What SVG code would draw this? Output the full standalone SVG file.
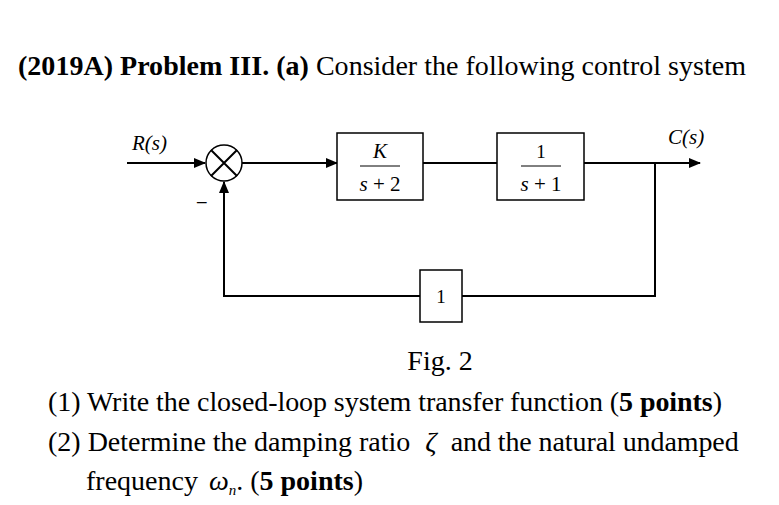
<svg xmlns="http://www.w3.org/2000/svg" width="779" height="505" viewBox="0 0 779 505">
<style>
text{font-family:"Liberation Serif",serif;fill:#000}
.t{font-size:28px}
.m{font-size:21px;font-style:italic}
.n{font-size:19px}
.b{fill:#fff;stroke:#000;stroke-width:1.5}
.c{fill:none;stroke:#000;stroke-width:2}
</style>
<defs><marker id="a" markerWidth="12" markerHeight="10" refX="11" refY="5" orient="auto" markerUnits="userSpaceOnUse"><path d="M0,0L12,5L0,10z"/></marker></defs>
<rect width="779" height="505" fill="#fff"/>
<text x="18" y="75" class="t" textLength="728"><tspan font-weight="bold">(2019A) Problem III. (a)</tspan> Consider the following control system</text>
<g id="connectors">
<line class="c" x1="127" y1="163" x2="205" y2="163" marker-end="url(#a)"/>
<line class="c" x1="242" y1="163" x2="337" y2="163" marker-end="url(#a)"/>
<line class="c" x1="423" y1="163" x2="497" y2="163"/>
<line class="c" x1="584" y1="163" x2="700" y2="163" marker-end="url(#a)"/>
<polyline class="c" points="655,163 655,296 462,296"/>
<polyline class="c" points="420,296 224,296 224,182" marker-end="url(#a)"/>
</g>
<text x="132" y="150" class="m">R(s)</text>
<text x="668" y="144" class="m">C(s)</text>
<text x="197" y="207" class="n" font-weight="bold">–</text>
<g id="sum"><circle cx="224" cy="163" r="18" class="b" stroke-width="2"/><path d="M211,150L237,176M237,150L211,176" class="c"/></g>
<g id="g1"><rect x="337" y="133" width="86" height="67" class="b"/><text x="380" y="158" class="m" text-anchor="middle">K</text><line x1="360" y1="166" x2="400" y2="166" stroke="#000"/><text x="380" y="191" class="m" text-anchor="middle">s<tspan font-style="normal"> + 2</tspan></text></g>
<g id="g2"><rect x="497" y="133" width="87" height="67" class="b"/><text x="541" y="158" class="n" text-anchor="middle">1</text><line x1="521" y1="166" x2="561" y2="166" stroke="#000"/><text x="541" y="191" class="m" text-anchor="middle">s<tspan font-style="normal"> + 1</tspan></text></g>
<g id="h"><rect x="420" y="270" width="42" height="52" class="b"/><text x="441" y="303" class="n" text-anchor="middle">1</text></g>
<text x="440" y="370" class="t" text-anchor="middle">Fig. 2</text>
<text x="48" y="411" class="t" textLength="674">(1) Write the closed-loop system transfer function (<tspan font-weight="bold">5 points</tspan>)</text>
<text x="48" y="451" class="t">(2) Determine the damping ratio <tspan font-style="italic" dx="8">ζ</tspan><tspan dx="14" textLength="288">and the natural undamped</tspan></text>
<text x="86" y="490" class="t">frequency  <tspan font-style="italic" dx="4">ω</tspan><tspan font-style="italic" font-size="15" dy="5">n</tspan><tspan dy="-5">. (</tspan><tspan font-weight="bold">5 points</tspan>)</text>
</svg>
